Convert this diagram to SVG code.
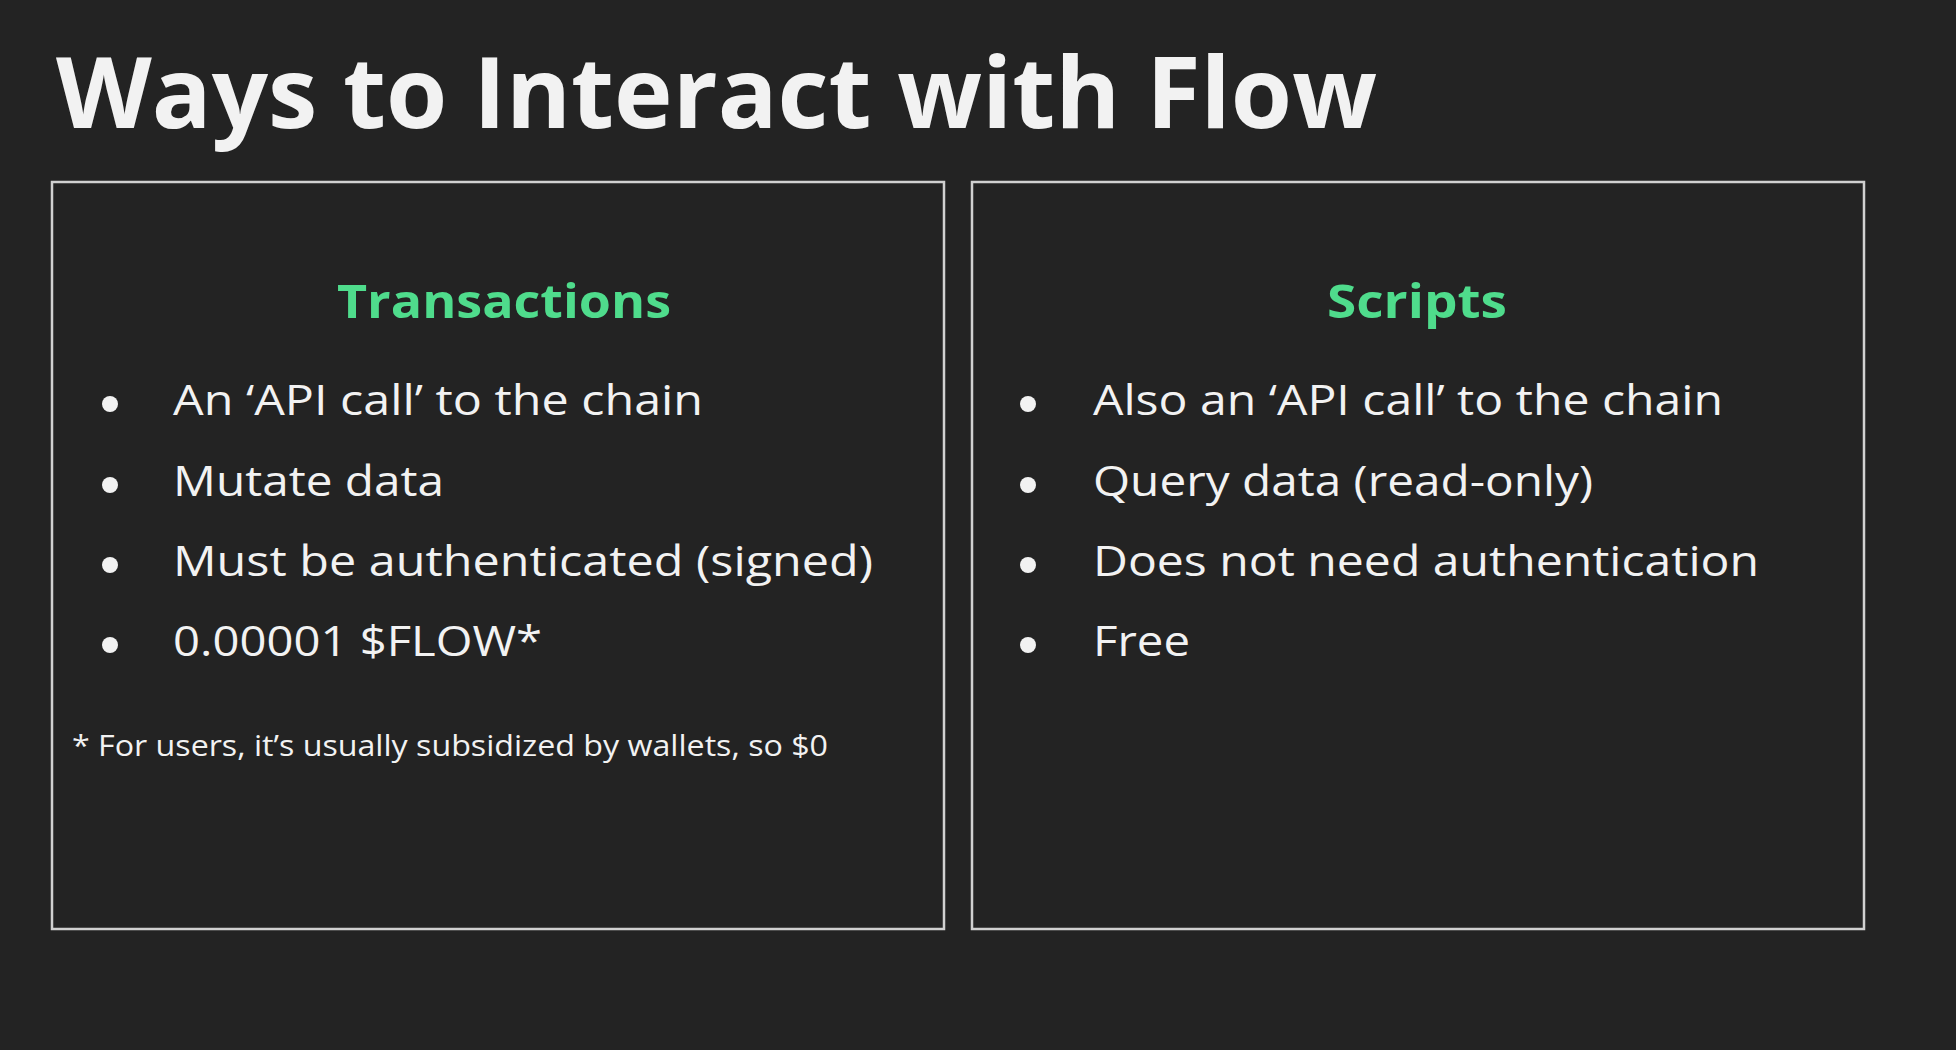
<svg xmlns="http://www.w3.org/2000/svg" width="1956" height="1050" viewBox="0 0 1956 1050">
<style>
.t{font-family:"Open Sans","Liberation Sans",sans-serif;fill:#f2f2f2}
.h{font-family:"Open Sans","Liberation Sans",sans-serif;font-weight:700;fill:#4fdc8c;font-size:47px;text-anchor:middle}
.b{font-size:42px}
.box{fill:none;stroke:#d0d0d0;stroke-width:2.5}
</style>
<rect width="1956" height="1050" fill="#232323"/>
<text class="t" x="56" y="128" font-size="98" font-weight="700" textLength="1321" lengthAdjust="spacingAndGlyphs">Ways to Interact with Flow</text>
<g id="transactions">
<rect class="box" x="52" y="182" width="892" height="747"/>
<text class="h" x="504" y="318" textLength="334" lengthAdjust="spacingAndGlyphs">Transactions</text>
<g fill="#f2f2f2"><circle cx="110" cy="404" r="8"/><circle cx="110" cy="485" r="8"/><circle cx="110" cy="565" r="8"/><circle cx="110" cy="645" r="8"/></g>
<text class="t b" x="173" y="415" textLength="530" lengthAdjust="spacingAndGlyphs">An ‘API call’ to the chain</text>
<text class="t b" x="173" y="496" textLength="271" lengthAdjust="spacingAndGlyphs">Mutate data</text>
<text class="t b" x="173" y="576" textLength="700" lengthAdjust="spacingAndGlyphs">Must be authenticated (signed)</text>
<text class="t b" x="173" y="656" textLength="369" lengthAdjust="spacingAndGlyphs">0.00001 $FLOW*</text>
<text class="t" x="72" y="756" font-size="30" textLength="756" lengthAdjust="spacingAndGlyphs">* For users, it’s usually subsidized by wallets, so $0</text>
</g>
<g id="scripts">
<rect class="box" x="972" y="182" width="892" height="747"/>
<text class="h" x="1417" y="318" textLength="180" lengthAdjust="spacingAndGlyphs">Scripts</text>
<g fill="#f2f2f2"><circle cx="1028" cy="404" r="8"/><circle cx="1028" cy="485" r="8"/><circle cx="1028" cy="565" r="8"/><circle cx="1028" cy="645" r="8"/></g>
<text class="t b" x="1093" y="415" textLength="630" lengthAdjust="spacingAndGlyphs">Also an ‘API call’ to the chain</text>
<text class="t b" x="1093" y="496" textLength="500" lengthAdjust="spacingAndGlyphs">Query data (read-only)</text>
<text class="t b" x="1093" y="576" textLength="666" lengthAdjust="spacingAndGlyphs">Does not need authentication</text>
<text class="t b" x="1093" y="656" textLength="97" lengthAdjust="spacingAndGlyphs">Free</text>
</g>
<g id="connectors"/>
</svg>
